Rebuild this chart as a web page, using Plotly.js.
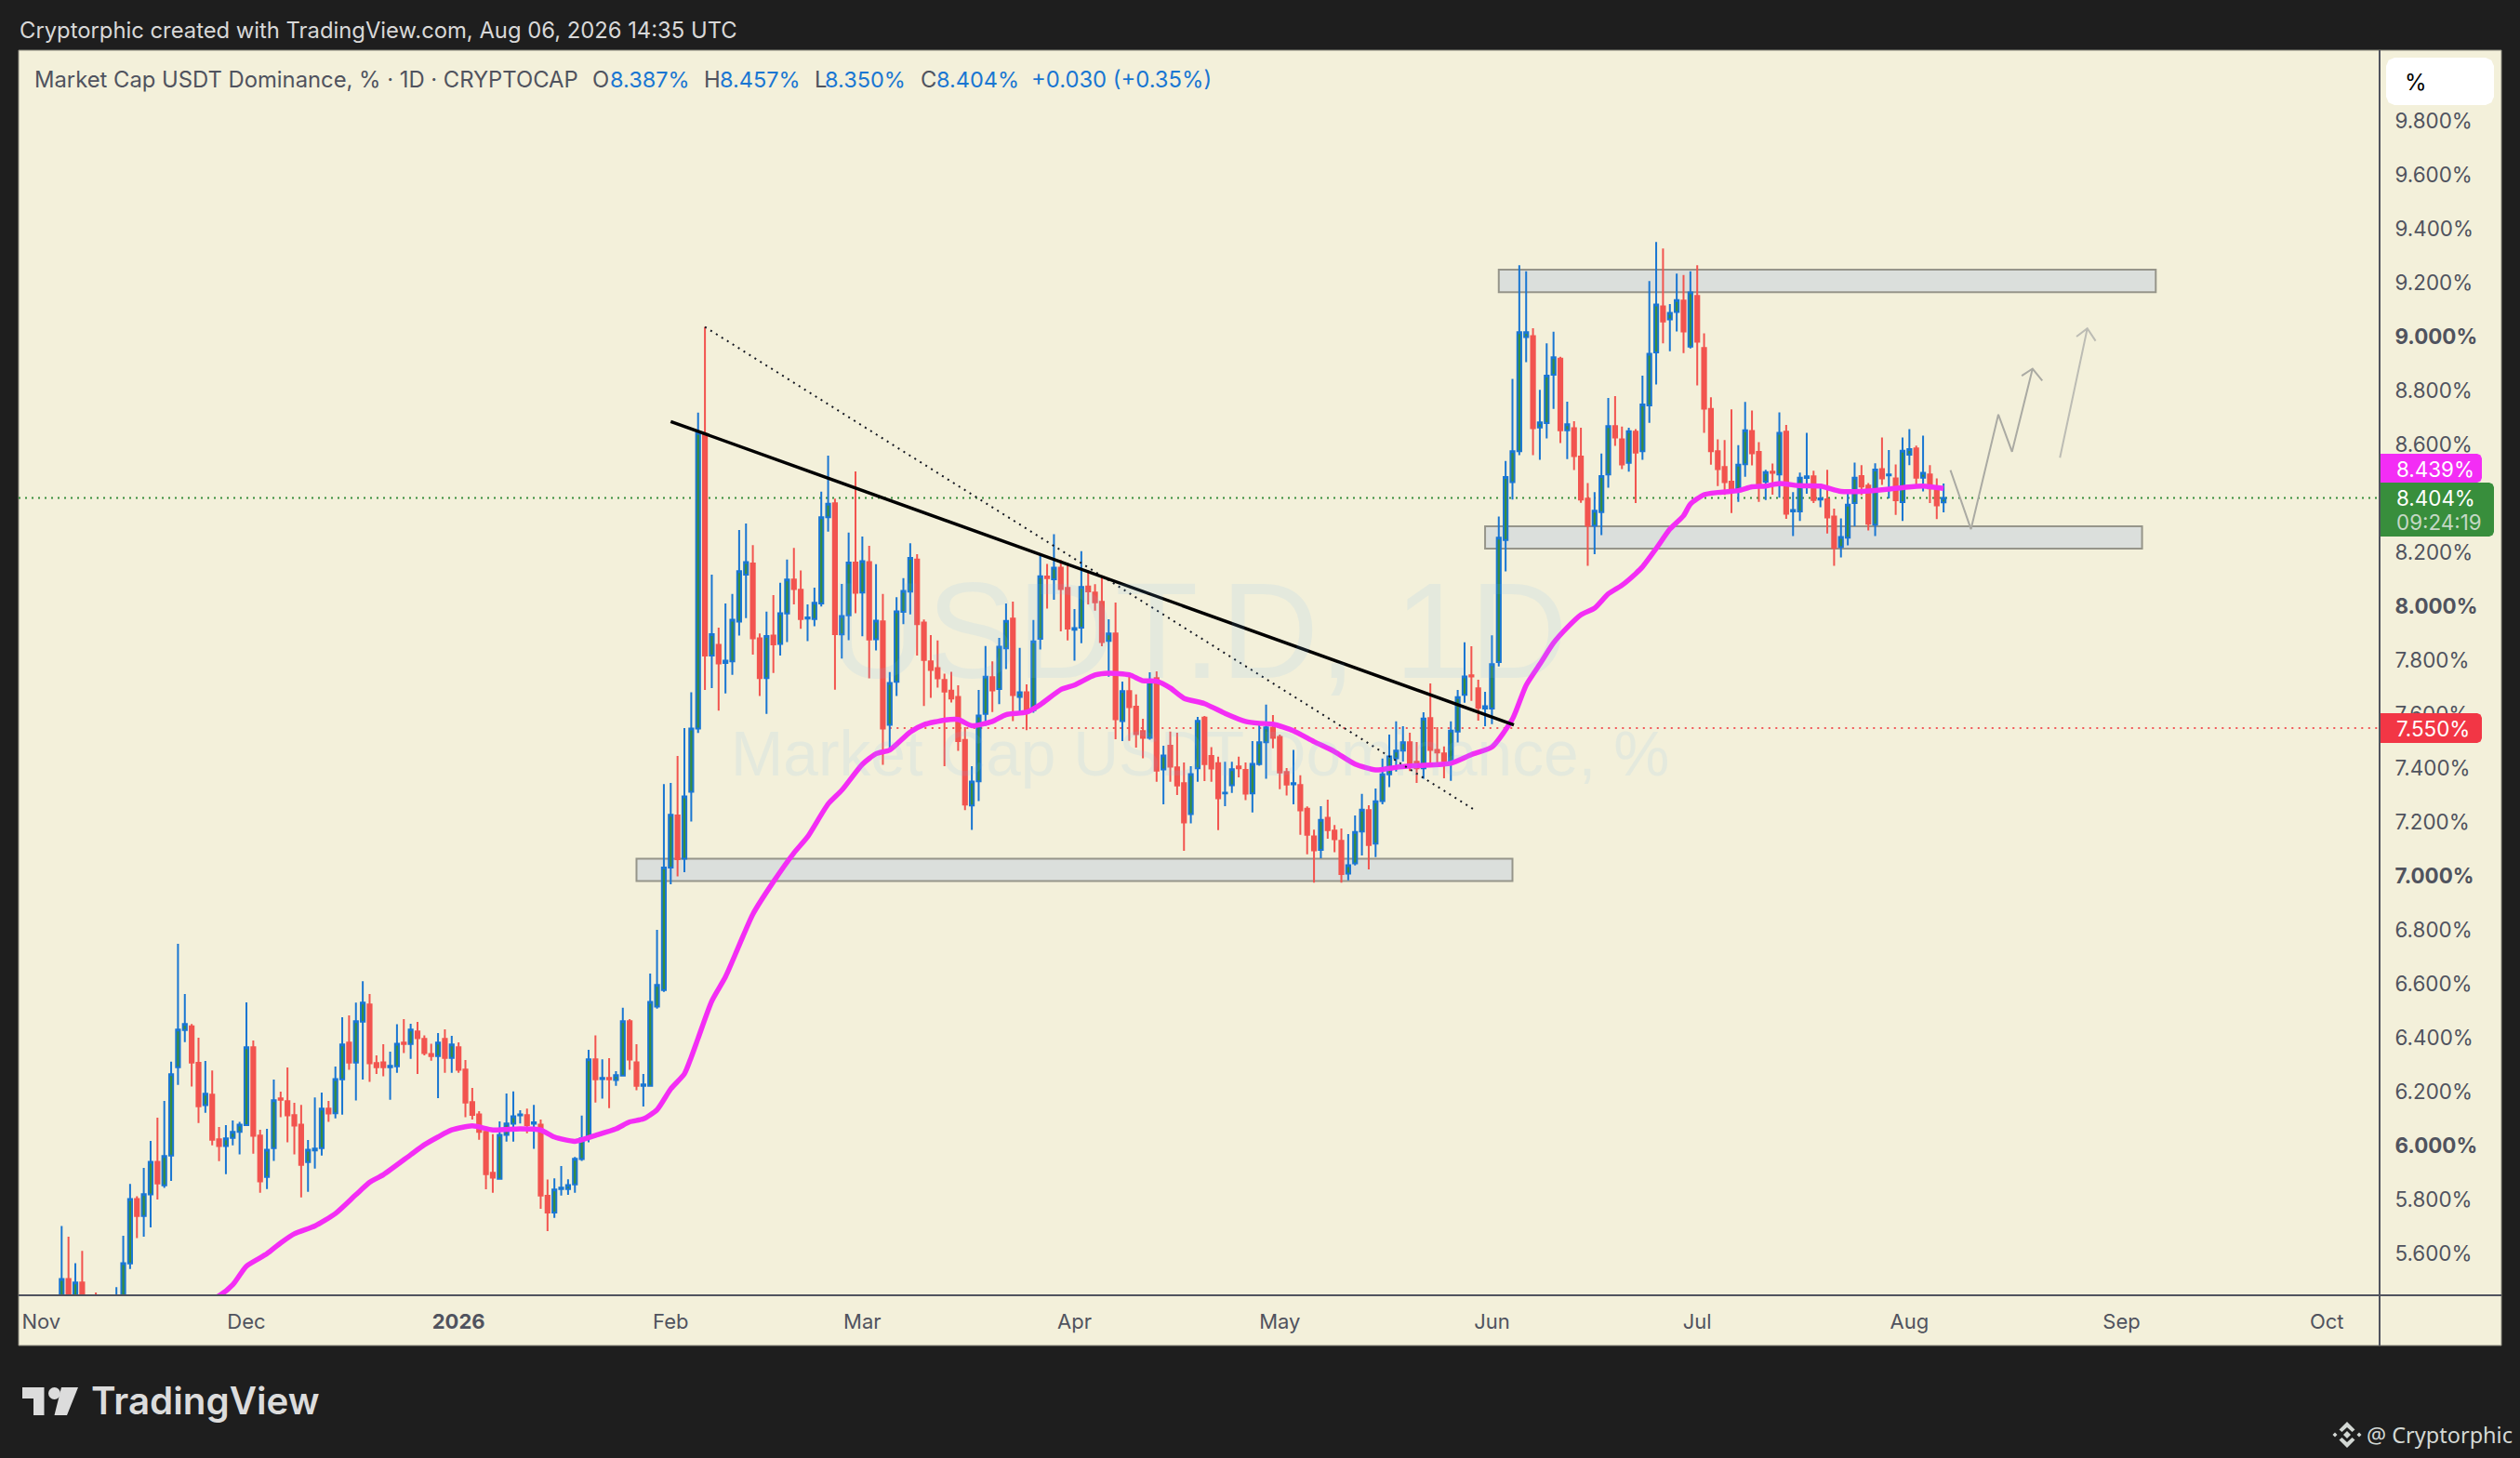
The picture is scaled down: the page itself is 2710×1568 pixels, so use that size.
<!DOCTYPE html>
<html><head><meta charset="utf-8">
<script src="https://cdn.plot.ly/plotly-3.0.1.min.js"></script>
<style>html,body{margin:0;padding:0;background:#1e1e1e}#c{width:2710px;height:1568px}</style>
</head><body><div id="c"></div>
<script>
const firstDate='2025-11-04';
const opens=[5.40,5.507,5.42,5.494,5.38,5.40,5.30,5.34,5.36,5.40,
5.565,5.804,5.741,5.821,5.942,5.855,5.965,6.293,6.431,6.444,
6.309,6.152,6.191,6.025,6.000,6.031,6.053,6.078,6.367,6.039,
5.886,5.993,6.177,6.167,6.115,6.080,5.941,5.984,5.993,6.139,
6.122,6.248,6.384,6.310,6.462,6.525,6.308,6.311,6.293,6.296,
6.384,6.379,6.425,6.398,6.342,6.334,6.398,6.327,6.367,6.284,
6.163,6.118,6.053,5.901,5.879,6.042,6.083,6.114,6.115,6.083,
6.080,5.816,5.754,5.841,5.841,5.858,5.952,6.032,6.322,6.249,
6.253,6.245,6.262,6.463,6.311,6.224,6.224,6.518,
6.579,7.033,7.226,7.066,7.314,7.549,8.641,7.819,7.859,7.792,
7.798,7.945,8.119,8.161,7.883,7.736,7.893,7.862,7.975,8.101,
8.063,7.956,7.955,8.012,8.332,8.384,7.898,7.968,8.164,8.053,
8.166,7.880,7.946,7.562,7.722,7.981,8.056,8.175,7.942,7.798,
7.773,7.729,7.689,7.666,7.506,7.263,7.353,7.603,7.739,7.695,
7.846,7.956,7.666,7.683,7.617,7.881,8.112,8.102,8.145,
8.070,7.915,7.923,8.075,8.053,8.018,7.874,7.901,7.576,7.687,
7.630,7.539,7.514,7.736,7.397,7.485,7.405,7.346,7.231,7.401,
7.589,7.447,7.420,7.308,7.338,7.408,7.395,7.308,7.417,7.498,
7.552,7.518,7.387,7.342,7.339,7.251,7.149,7.099,7.218,7.170,
7.132,7.011,7.049,7.167,7.246,7.122,7.280,7.379,7.438,7.467,
7.498,7.425,7.401,7.587,7.469,7.456,7.429,7.537,7.674,7.746,
7.698,7.623,7.623,
7.795,8.248,8.462,8.577,9.000,9.004,8.665,8.681,8.861,8.920,
8.655,8.662,8.557,8.401,8.301,8.351,8.491,8.670,8.621,8.534,
8.649,8.577,8.747,8.943,9.114,9.066,9.093,9.136,8.965,9.153,
8.960,8.734,8.577,8.518,8.464,8.432,8.529,8.652,8.574,8.464,
8.501,8.491,8.649,8.354,8.354,8.478,8.484,8.398,8.399,8.335,
8.222,8.256,8.385,8.485,8.449,8.305,8.511,8.487,8.476,8.388,
8.564,8.587,8.479,8.491,8.439,8.387];
const highs=[5.704,5.664,5.566,5.612,5.44,5.457,5.42,5.44,5.477,5.668,
5.860,5.814,5.919,6.019,6.106,6.168,6.313,6.750,6.564,6.453,
6.402,6.316,6.281,6.071,6.078,6.095,6.090,6.533,6.392,6.061,
6.064,6.247,6.202,6.292,6.161,6.153,6.023,6.181,6.199,6.168,
6.295,6.478,6.485,6.532,6.612,6.564,6.337,6.378,6.350,6.452,
6.471,6.454,6.461,6.411,6.380,6.419,6.433,6.409,6.385,6.319,
6.216,6.130,6.072,6.044,6.092,6.195,6.203,6.133,6.139,6.153,
6.099,5.876,5.881,5.926,5.877,5.960,6.113,6.357,6.411,6.322,
6.326,6.278,6.513,6.471,6.378,6.268,6.640,6.802,
7.343,7.347,7.447,7.550,7.683,8.720,9.038,8.119,7.923,8.012,
8.048,8.285,8.309,8.229,7.901,7.982,8.043,8.089,8.175,8.218,
8.135,8.009,8.071,8.427,8.561,8.401,8.085,8.275,8.502,8.261,
8.226,8.158,8.048,7.758,8.036,8.106,8.236,8.195,7.953,7.895,
7.875,7.752,7.759,7.709,7.554,7.409,7.692,7.855,7.798,7.885,
8.012,8.019,7.848,7.712,7.951,8.198,8.159,8.269,8.174,
8.162,7.992,8.206,8.136,8.084,8.116,7.954,8.016,7.723,7.756,
7.675,7.585,7.757,7.761,7.485,7.537,7.533,7.423,7.409,7.592,
7.595,7.480,7.444,7.425,7.425,7.444,7.423,7.502,7.564,7.637,
7.599,7.526,7.402,7.469,7.375,7.260,7.174,7.261,7.285,7.191,
7.178,7.157,7.226,7.306,7.264,7.326,7.437,7.526,7.575,7.557,
7.533,7.499,7.609,7.716,7.554,7.482,7.575,7.692,7.868,7.854,
7.730,7.685,7.894,
8.335,8.541,8.845,9.267,9.244,9.033,8.805,8.977,9.020,8.927,
8.761,8.688,8.664,8.459,8.425,8.568,8.774,8.781,8.668,8.664,
8.659,8.857,9.208,9.353,9.329,9.123,9.236,9.230,9.244,9.267,
9.014,8.777,8.621,8.618,8.732,8.599,8.760,8.728,8.611,8.508,
8.531,8.721,8.674,8.425,8.498,8.645,8.505,8.456,8.508,8.364,
8.328,8.432,8.535,8.525,8.459,8.532,8.628,8.581,8.528,8.628,
8.659,8.598,8.635,8.525,8.476,8.457];
const lows=[5.30,5.35,5.38,5.30,5.28,5.26,5.24,5.26,5.30,5.36,
5.544,5.659,5.664,5.699,5.802,5.845,5.871,6.227,6.386,6.221,
6.086,6.124,6.003,5.944,5.896,6.003,5.969,6.076,5.972,5.827,
5.841,5.945,6.107,6.014,5.969,5.810,5.831,5.917,5.965,6.090,
6.103,6.117,6.283,6.169,6.247,6.238,6.268,6.259,6.172,6.272,
6.345,6.324,6.268,6.337,6.317,6.178,6.272,6.272,6.272,6.107,
6.099,6.024,5.840,5.827,5.875,6.017,6.017,6.084,6.048,5.990,
5.768,5.685,5.734,5.817,5.819,5.827,5.945,6.014,6.162,6.176,
6.141,6.224,6.260,6.283,6.207,6.147,6.221,6.510,
6.572,6.971,7.000,7.016,7.204,7.532,7.692,7.699,7.615,7.679,
7.748,7.893,7.958,7.823,7.669,7.603,7.755,7.819,7.869,8.009,
7.918,7.873,7.928,8.001,8.279,7.693,7.808,7.876,7.976,7.891,
7.735,7.838,7.414,7.476,7.669,7.936,7.972,7.819,7.632,7.662,
7.700,7.409,7.645,7.466,7.246,7.173,7.280,7.559,7.610,7.639,
7.769,7.576,7.607,7.543,7.607,7.842,7.993,8.026,7.909,
7.875,7.800,7.865,8.009,7.986,7.854,7.741,7.509,7.502,7.503,
7.478,7.438,7.507,7.351,7.268,7.351,7.302,7.095,7.197,7.351,
7.354,7.351,7.172,7.261,7.310,7.368,7.283,7.237,7.411,7.362,
7.475,7.324,7.300,7.268,7.155,7.082,6.977,7.068,7.140,7.090,
6.977,6.986,7.041,7.078,7.026,7.072,7.268,7.331,7.389,7.426,
7.391,7.347,7.362,7.406,7.406,7.364,7.355,7.497,7.644,7.651,
7.578,7.557,7.565,
7.779,8.131,8.398,8.562,8.907,8.562,8.545,8.624,8.734,8.607,
8.548,8.507,8.386,8.152,8.195,8.266,8.442,8.597,8.511,8.501,
8.385,8.545,8.682,8.824,8.977,8.948,9.021,8.941,8.958,8.821,
8.645,8.527,8.448,8.415,8.348,8.389,8.482,8.524,8.389,8.396,
8.416,8.405,8.326,8.262,8.318,8.419,8.385,8.369,8.272,8.152,
8.183,8.228,8.299,8.414,8.283,8.262,8.452,8.402,8.341,8.318,
8.525,8.442,8.428,8.385,8.325,8.350];
const closes=[5.507,5.42,5.494,5.38,5.30,5.30,5.34,5.40,5.42,5.566,
5.804,5.741,5.822,5.942,5.862,5.963,6.267,6.432,6.453,6.310,
6.148,6.194,6.024,6.000,6.029,6.053,6.080,6.367,6.038,5.869,
5.987,6.170,6.172,6.114,6.076,5.931,5.987,5.991,6.139,6.121,
6.249,6.377,6.310,6.463,6.532,6.307,6.293,6.293,6.298,6.380,
6.379,6.432,6.400,6.345,6.334,6.384,6.327,6.377,6.283,6.162,
6.116,6.053,5.896,5.883,6.042,6.084,6.111,6.118,6.078,6.088,
5.817,5.754,5.839,5.846,5.856,5.953,6.029,6.322,6.248,6.253,
6.248,6.263,6.463,6.321,6.224,6.229,6.535,6.598,
7.033,7.229,7.064,7.297,7.549,8.645,7.819,7.899,7.790,7.800,
7.952,8.132,8.166,7.883,7.736,7.892,7.861,7.976,8.101,8.066,
7.955,7.961,8.015,8.332,8.382,7.899,7.966,8.164,8.052,8.169,
7.879,7.949,7.549,7.718,7.983,8.059,8.181,7.936,7.803,7.766,
7.735,7.686,7.660,7.502,7.267,7.352,7.597,7.741,7.690,7.852,
7.948,7.673,7.683,7.619,7.872,8.113,8.106,8.145,8.066,
7.919,7.921,8.074,8.057,8.017,7.869,7.901,7.583,7.687,7.628,
7.528,7.514,7.728,7.393,7.449,7.407,7.337,7.200,7.380,7.577,
7.417,7.400,7.290,7.311,7.398,7.401,7.307,7.418,7.498,7.553,
7.514,7.386,7.341,7.346,7.245,7.155,7.097,7.210,7.172,7.138,
7.009,7.042,7.165,7.248,7.117,7.279,7.379,7.445,7.467,7.498,
7.419,7.401,7.586,7.469,7.460,7.428,7.541,7.665,7.742,7.742,
7.625,7.631,7.787,
8.256,8.481,8.577,9.018,9.018,8.662,8.684,8.857,8.925,8.655,
8.677,8.559,8.398,8.301,8.356,8.485,8.670,8.628,8.528,8.651,
8.572,8.750,8.938,9.121,9.058,9.090,9.137,9.021,9.166,8.983,
8.735,8.577,8.511,8.462,8.436,8.527,8.655,8.569,8.452,8.499,
8.497,8.645,8.345,8.359,8.479,8.484,8.396,8.402,8.331,8.218,
8.259,8.379,8.479,8.446,8.308,8.509,8.476,8.491,8.395,8.579,
8.585,8.479,8.497,8.439,8.376,8.404];
const maBars=[18,24,26,28,31,33,35,38,41,44,46,48,52,54,56,58,61,64,68,71,73,76,79,82,84,86,88,90,92,93,94,96,98,100,102,105,108,110,113,115,118,120,122,125,127,130,132,134,137,139,142,144,147,149,152,154,157,159,161,163,165,168,171,174,176,178,181,184,187,190,193,196,199,204,207,210,213,215,217,219,221,223,225,227,229,231,232,234,236,238,239,241,243,246,248,250,252,255,258,261,264,267,270,273,276];
const maValues=[5.38,5.445,5.486,5.555,5.601,5.641,5.675,5.704,5.750,5.82,5.866,5.894,5.968,6.005,6.034,6.060,6.075,6.060,6.064,6.060,6.034,6.018,6.040,6.064,6.090,6.101,6.135,6.212,6.268,6.33,6.40,6.538,6.628,6.745,6.86,6.98,7.087,7.147,7.269,7.32,7.416,7.455,7.469,7.536,7.563,7.580,7.582,7.559,7.575,7.600,7.609,7.637,7.693,7.710,7.747,7.754,7.748,7.726,7.724,7.699,7.661,7.641,7.605,7.575,7.568,7.565,7.540,7.500,7.463,7.417,7.395,7.405,7.411,7.420,7.452,7.480,7.584,7.709,7.787,7.866,7.923,7.970,7.995,8.048,8.080,8.123,8.148,8.216,8.288,8.338,8.381,8.416,8.424,8.431,8.445,8.448,8.457,8.449,8.448,8.428,8.428,8.434,8.442,8.448,8.439];
const trendDates=['2026-02-01','2026-06-04 05:00'];
const trendValues=[8.687,7.562];
const dottedDates=['2026-02-06','2026-05-29 14:00'];
const dottedValues=[9.038,7.245];
const arrow1Dates=['2026-08-07','2026-08-10','2026-08-14','2026-08-16','2026-08-19','2026-08-17 10:00','2026-08-19','2026-08-20 10:00'];
const arrow1Values=[8.507,8.288,8.713,8.575,8.883,8.857,8.883,8.839];
const arrow2Dates=['2026-08-23','2026-08-27','2026-08-25 10:00','2026-08-27','2026-08-28 05:00'];
const arrow2Values=[8.553,9.032,9.002,9.032,8.986];
const zones=[['2026-01-27','2026-06-04',6.983,7.066],['2026-06-02','2026-09-06',9.167,9.250],['2026-05-31','2026-09-04',8.216,8.299]];
const lastPrice=8.404, supportPrice=7.55, supportStart='2026-03-05';
const monthDates=['2025-11-01','2025-12-01','2026-01-01','2026-02-01','2026-03-01','2026-04-01','2026-05-01','2026-06-01','2026-07-01','2026-08-01','2026-09-01','2026-10-01'];
const monthLabels=['Nov','Dec','<b>2026</b>','Feb','Mar','Apr','May','Jun','Jul','Aug','Sep','Oct'];
const priceTicks=[5.6,5.8,6,6.2,6.4,6.6,6.8,7,7.2,7.4,7.6,7.8,8,8.2,8.6,8.8,9,9.2,9.4,9.6,9.8];
const priceLabels=['5.600%','5.800%','<b>6.000%</b>','6.200%','6.400%','6.600%','6.800%','<b>7.000%</b>','7.200%','7.400%','7.600%','7.800%','<b>8.000%</b>','8.200%','8.600%','8.800%','<b>9.000%</b>','9.200%','9.400%','9.600%','9.800%'];
const headerText='Cryptorphic created with TradingView.com, Aug 06, 2026 14:35 UTC';
const legendName='Market Cap USDT Dominance, % · 1D · CRYPTOCAP';
const ohlcLetters=['O','H','L','C'];
const ohlcTexts=['8.387%','8.457%','8.350%','8.404%'];
const changeText='+0.030 (+0.35%)';
const watermarkBig='USDT.D, 1D', watermarkSmall='Market Cap USDT Dominance, %';

const dates=[];
{const d0=new Date(firstDate+'T00:00:00Z');
 for(let i=0;i<closes.length;i++){dates.push(new Date(d0.getTime()+i*864e5).toISOString().slice(0,10));}}

const L=20,R=2559,T=54,B=1393;
const fx=x=>(x-L)/(R-L), fy=y=>1-(y-T)/(B-T);
const PANE='#f3f0da',AX='#50535e',FONT='Inter, "Liberation Sans", sans-serif';
const ann=[],shp=[];
function label(text,x,y,size,color,anchor,extra){ann.push(Object.assign({text,x:fx(x),y:fy(y),xref:'paper',yref:'paper',xanchor:anchor||'left',yanchor:'middle',showarrow:false,borderpad:0,font:{family:FONT,size,color}},extra||{}));}
function poly(pts,color){shp.push({type:'path',xref:'paper',yref:'paper',layer:'above',fillcolor:color,line:{width:0},path:'M'+pts.map(p=>fx(p[0])+','+fy(p[1])).join('L')+'Z'});}
function tag(x0,x1,y0,y1,color){const r=5;poly([[x0,y0],[x1-r,y0],[x1-1.5,y0+1.5],[x1,y0+r],[x1,y1-r],[x1-1.5,y1-1.5],[x1-r,y1],[x0,y1]],color);}
function roundBox(x0,x1,y0,y1,r,color){const c=r*0.3;poly([[x0+r,y0],[x1-r,y0],[x1-c,y0+c],[x1,y0+r],[x1,y1-r],[x1-c,y1-c],[x1-r,y1],[x0+r,y1],[x0+c,y1-c],[x0,y1-r],[x0,y0+r],[x0+c,y0+c]],color);}

shp.push({type:'rect',xref:'paper',yref:'paper',layer:'below',x0:fx(20),x1:fx(2690),y0:fy(1447),y1:fy(54),fillcolor:PANE,line:{color:'#8d8c80',width:1}});
shp.push({type:'line',xref:'paper',yref:'paper',layer:'above',x0:fx(2559),x1:fx(2559),y0:fy(54),y1:fy(1447),line:{color:AX,width:2}});
shp.push({type:'line',xref:'paper',yref:'paper',layer:'above',x0:fx(20),x1:fx(2690),y0:fy(1393),y1:fy(1393),line:{color:AX,width:2}});
zones.forEach(z=>shp.push({type:'rect',layer:'below',xref:'x',yref:'y',x0:z[0],x1:z[1],y0:z[2],y1:z[3],fillcolor:'#dbdfdc',line:{color:'#96958a',width:2}}));
shp.push({type:'line',layer:'below',xref:'paper',yref:'y',x0:0,x1:1,y0:lastPrice,y1:lastPrice,line:{color:'#388e3c',width:2,dash:'2px,5px'}});
shp.push({type:'line',layer:'below',xref:'x',yref:'y',x0:supportStart,x1:'2026-10-08 17:00',y0:supportPrice,y1:supportPrice,line:{color:'#f25a5a',width:2,dash:'2px,5.5px'}});
tag(2560,2669,488,519,'#f32df5');
tag(2560,2682,519,577,'#388e3c');
tag(2560,2669,767,799,'#f23645');
label('8.439%',2576,504,22.4,'#ffffff');
label('8.404%',2576,535,22.4,'#ffffff');
label('09:24:19',2576,561,22.4,'#c5d8c5');
label('7.550%',2576,783,22.4,'#ffffff');
roundBox(2566,2682,62,113,9,'#ffffff');
label('%',2585,88,24,'#000000');
label(headerText,20,32,23.8,'#d8d8d8');
label(legendName,36,86,23.8,AX);
const letterX=[636,756,875,989],valueX=[655,773,886,1006];
ohlcLetters.forEach((t,i)=>{label(t,letterX[i],86,23.8,AX);label(ohlcTexts[i],valueX[i],86,23.5,'#1976d2');});
label(changeText,1108,86,23.8,'#1976d2');
const WM='rgba(120,190,250,0.12)';
label(watermarkBig,1288,678,146,WM,'center',{font:{family:'"Liberation Sans", sans-serif',size:146,color:WM}});
label(watermarkSmall,1290,810,67.6,WM,'center',{font:{family:'"Liberation Sans", sans-serif',size:67.6,color:WM}});
const LOGO='#dcdcdc';
poly([[24,1492],[47.5,1492],[47.5,1522],[36,1522],[36,1504],[24,1504]],LOGO);
shp.push({type:'circle',xref:'paper',yref:'paper',layer:'above',x0:fx(52),x1:fx(65),y0:fy(1505),y1:fy(1492),fillcolor:LOGO,line:{width:0}});
poly([[66,1492],[84,1492],[72,1522],[58.5,1522]],LOGO);
label('TradingView',97,1507,40.3,LOGO,'left',{font:{family:'Inter, sans-serif',size:40.3,color:LOGO,weight:600}});
const SG='#d3d8d4';const cx=2524,cy=1543;
poly([[cx,cy-4],[cx+4,cy],[cx,cy+4],[cx-4,cy]],SG);
poly([[cx-13,cy-2.5],[cx-10.5,cy],[cx-13,cy+2.5],[cx-15.5,cy]],SG);
poly([[cx+13,cy-2.5],[cx+15.5,cy],[cx+13,cy+2.5],[cx+10.5,cy]],SG);
poly([[cx,cy-14],[cx+8.5,cy-5.5],[cx+5.5,cy-3],[cx,cy-8],[cx-5.5,cy-3],[cx-8.5,cy-5.5]],SG);
poly([[cx,cy+14],[cx+8.5,cy+5.5],[cx+5.5,cy+3],[cx,cy+8],[cx-5.5,cy+3],[cx-8.5,cy+5.5]],SG);
label('@ Cryptorphic',2544,1543,23.5,SG,'left',{font:{family:'"Noto Sans", sans-serif',size:23.5,color:SG}});

const traces=[
 {type:'candlestick',x:dates,open:opens,high:highs,low:lows,close:closes,whiskerwidth:0,hoverinfo:'skip',
  increasing:{line:{color:'#1976d2',width:2},fillcolor:'#388e3c'},
  decreasing:{line:{color:'#f2544f',width:2},fillcolor:'#f2544f'}},
 {type:'scatter',mode:'lines',x:maBars.map(i=>dates[i-1]),y:maValues,line:{color:'#f32df5',width:5.5,shape:'spline',smoothing:0.6},hoverinfo:'skip'},
 {type:'scatter',mode:'lines',x:dottedDates,y:dottedValues,line:{color:'#131722',width:2,dash:'2px,5px'},hoverinfo:'skip'},
 {type:'scatter',mode:'lines',x:trendDates,y:trendValues,line:{color:'#000000',width:3.5},hoverinfo:'skip'},
 {type:'scatter',mode:'lines',x:arrow1Dates,y:arrow1Values,line:{color:'#aaaaa3',width:2},hoverinfo:'skip'},
 {type:'scatter',mode:'lines',x:arrow2Dates,y:arrow2Values,line:{color:'#bcbcb4',width:2},hoverinfo:'skip'}
];
const layout={width:2710,height:1568,showlegend:false,paper_bgcolor:'#1e1e1e',plot_bgcolor:PANE,
 margin:{l:L,r:2710-R,t:T,b:1568-B,pad:0},boxgap:0.43,boxgroupgap:0,font:{family:FONT},
 xaxis:{type:'date',range:['2025-10-28 17:00','2026-10-08 17:00'],rangeslider:{visible:false},showgrid:false,zeroline:false,showline:false,
  tickmode:'array',tickvals:monthDates,ticktext:monthLabels,tickfont:{family:FONT,size:22,color:AX},ticks:'outside',ticklen:9,tickcolor:'rgba(0,0,0,0)',tickangle:0},
 yaxis:{side:'right',range:[5.447,10.064],showgrid:false,zeroline:false,showline:false,
  tickmode:'array',tickvals:priceTicks,ticktext:priceLabels,tickfont:{family:FONT,size:22.4,color:AX},ticks:'outside',ticklen:11,tickcolor:'rgba(0,0,0,0)'},
 shapes:shp,annotations:ann};
Plotly.newPlot('c',traces,layout,{staticPlot:true,displayModeBar:false});
</script></body></html>
